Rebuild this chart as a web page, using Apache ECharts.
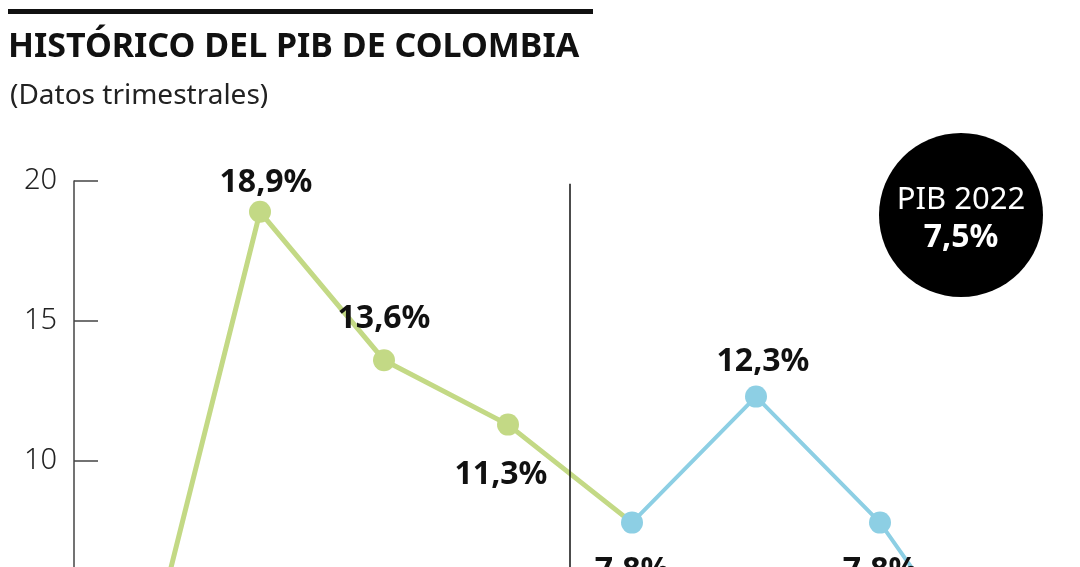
<!DOCTYPE html>
<html><head><meta charset="utf-8">
<script src="https://cdn.jsdelivr.net/npm/echarts@6/dist/echarts.min.js"></script>
<style>html,body{margin:0;padding:0;background:#fff}#c{width:1080px;height:567px}</style>
</head><body><div id="c"></div>
<script>
var quarters = [0,1,2,3,4,5,6,7];
var greenValues = [1.2,18.9,13.6,11.3,7.8];
var blueValues = [7.8,12.3,7.8,1.5];
var labelsShown = ['', '18,9%','13,6%','11,3%','7,8%','12,3%','7,8%',''];
var yTicks = [0,5,10,15,20];
var F = '"Noto Sans", sans-serif';
var labelPos = ['top','top','top','bottom','bottom','top','bottom','bottom'];
var labelDist = [10,2,14,14,21,8,21,10];
var labelOff = [[0,0],[6,0],[0,0],[-7,9],[0,0],[7,0],[0,0],[0,0]];
function mk(i,v){
  return {value:[quarters[i],v], label:{show:!!labelsShown[i], formatter:labelsShown[i], position:labelPos[i], distance:labelDist[i], offset:labelOff[i]}};
}
var gData = greenValues.map(function(v,i){return mk(i,v);});
gData[4].label = {show:false};
gData[4].symbolSize = 0;
var bData = blueValues.map(function(v,i){return mk(i+4,v);});
var chart = echarts.init(document.getElementById('c'));
var lbl = {fontFamily:F,fontWeight:'bold',fontSize:32,color:'#111'};
chart.setOption({
  animation:false,
  graphic:[
    {type:'rect',shape:{x:8,y:9,width:585,height:5},style:{fill:'#111'}},
    {type:'text',left:8,top:30,style:{text:'HISTÓRICO DEL PIB DE COLOMBIA',font:'bold 34px '+F,fill:'#111'}},
    {type:'text',left:10,top:82,style:{text:'(Datos trimestrales)',font:'28px '+F,fill:'#222'}},
    {type:'circle',shape:{cx:961,cy:215,r:82},style:{fill:'#000'},z:10},
    {type:'text',x:961,y:200,z:11,style:{text:'PIB 2022',font:'31px '+F,fill:'#fff',align:'center',verticalAlign:'middle'}},
    {type:'text',x:961,y:238,z:11,style:{text:'7,5%',font:'bold 32px '+F,fill:'#fff',align:'center',verticalAlign:'middle'}}
  ],
  grid:{left:74,width:992,top:181,height:560,outerBoundsMode:'none',containLabel:false},
  xAxis:{type:'value',min:-0.5,max:7.5,show:false},
  yAxis:{type:'value',min:0,max:20,interval:5,
    axisLine:{show:true,onZero:false,lineStyle:{color:'#444',width:1.5}},
    axisTick:{show:true,inside:true,length:24,lineStyle:{color:'#444',width:1.5}},
    splitLine:{show:false},
    axisLabel:{margin:17,fontFamily:F,fontSize:29,color:'#222',fontWeight:300,
      formatter:function(v){return yTicks.indexOf(v)>=0 && v>0?String(v):'';}}},
  series:[
    {type:'line',data:gData,symbol:'circle',symbolSize:22,
     lineStyle:{color:'#c3d985',width:5},itemStyle:{color:'#c3d985'},
     label:lbl,z:2,
     markLine:{silent:true,symbol:'none',label:{show:false},lineStyle:{color:'#111',type:'solid',width:1.5},
       data:[[{coord:[3.5,19.9]},{coord:[3.5,0]}]]}},
    {type:'line',data:bData,symbol:'circle',symbolSize:22,
     lineStyle:{color:'#8dcfe4',width:4},itemStyle:{color:'#8dcfe4'},
     label:lbl,z:3}
  ]
});
</script></body></html>
